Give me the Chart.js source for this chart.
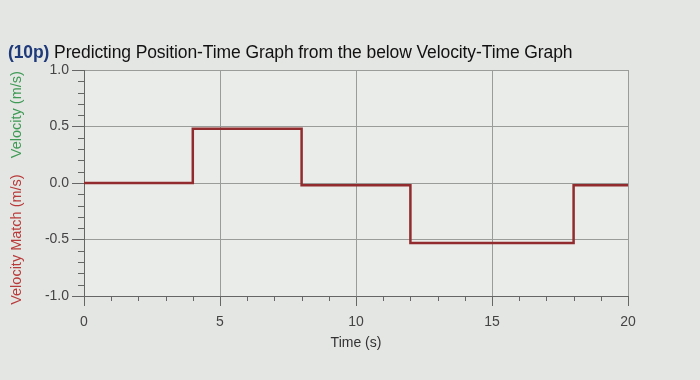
<!DOCTYPE html>
<html>
<head>
<meta charset="utf-8">
<script src="https://cdn.jsdelivr.net/npm/chart.js@4"></script>
<style>
  html, body { margin: 0; padding: 0; background: #e4e6e3; }
  #wrap { position: relative; width: 700px; height: 380px; }
  #title { position: absolute; left: 8px; top: 42px; font-family: "Liberation Sans", Arial, sans-serif; font-size: 17.5px; color: #111; white-space: nowrap; letter-spacing: -0.1px; }
  #title b { color: #1f3a7a; }
  canvas { position: absolute; left: 0; top: 0; }
</style>
</head>
<body>
<div id="wrap">
  <canvas id="c" width="700" height="380"></canvas>
  <div id="title"><b>(10p)</b> Predicting Position-Time Graph from the below Velocity-Time Graph</div>
</div>
<script>
const times = [0, 4, 8, 12, 18, 20];
const velocityMatch = [0, 0.48, -0.02, -0.53, -0.02, -0.02];
const velocity = [];
const xTickLabels = ['0', '5', '10', '15', '20'];
const yTickLabels = ['-1.0', '-0.5', '0.0', '0.5', '1.0'];
const xAxisTitle = 'Time (s)';
const yTitleRed = 'Velocity Match (m/s)';
const yTitleGreen = 'Velocity (m/s)';

const isMajor = (v, step) => Math.abs(v / step - Math.round(v / step)) < 1e-6;

const plotBg = {
  id: 'plotBg',
  beforeDraw(chart) {
    const { ctx, chartArea: a } = chart;
    ctx.save();
    ctx.fillStyle = '#eaece9';
    ctx.fillRect(a.left, a.top, a.right - a.left, a.bottom - a.top);
    ctx.restore();
  }
};

const minorTicks = {
  id: 'minorTicks',
  afterDraw(chart) {
    const { ctx, chartArea: a } = chart;
    const xs = chart.scales.x, ys = chart.scales.y;
    ctx.save();
    ctx.strokeStyle = '#666';
    ctx.lineWidth = 1;
    xs.ticks.forEach(t => {
      if (!isMajor(t.value, 5)) {
        const px = Math.round(xs.getPixelForValue(t.value)) + 0.5;
        ctx.beginPath(); ctx.moveTo(px, a.bottom); ctx.lineTo(px, a.bottom + 5); ctx.stroke();
      }
    });
    ys.ticks.forEach(t => {
      if (!isMajor(t.value, 0.5)) {
        const py = Math.round(ys.getPixelForValue(t.value)) + 0.5;
        ctx.beginPath(); ctx.moveTo(a.left - 6, py); ctx.lineTo(a.left, py); ctx.stroke();
      }
    });
    // rotated y title in two colours
    ctx.font = '14.5px "Liberation Sans", Arial, sans-serif';
    ctx.translate(17, (a.top + a.bottom) / 2);
    ctx.rotate(-Math.PI / 2);
    const sep = '    ';
    const wR = ctx.measureText(yTitleRed + sep).width;
    const wG = ctx.measureText(yTitleGreen).width;
    const start = -(wR + wG) / 2 - 5;
    ctx.textBaseline = 'middle';
    ctx.textAlign = 'left';
    ctx.fillStyle = '#b83a3a';
    ctx.fillText(yTitleRed, start, 0);
    ctx.fillStyle = '#3f9a55';
    ctx.fillText(yTitleGreen, start + wR, 0);
    ctx.restore();
  }
};

new Chart(document.getElementById('c'), {
  type: 'line',
  data: {
    datasets: [
      {
        label: yTitleRed,
        data: times.map((t, i) => ({ x: t, y: velocityMatch[i] })),
        borderColor: '#922b2d',
        borderWidth: 2.5,
        stepped: true,
        pointRadius: 0,
        fill: false
      },
      {
        label: yTitleGreen,
        data: velocity,
        borderColor: '#3f9a55',
        borderWidth: 2,
        pointRadius: 0
      }
    ]
  },
  options: {
    responsive: false,
    animation: false,
    events: [],
    layout: { padding: { left: 30, top: 70, right: 72, bottom: 28 } },
    plugins: { legend: { display: false }, tooltip: { enabled: false } },
    scales: {
      x: {
        type: 'linear',
        min: 0, max: 20,
        afterBuildTicks(s) {
          s.ticks = [];
          for (let v = 0; v <= 20; v++) s.ticks.push({ value: v });
        },
        afterFit(s) { s.height = 56; },
        border: { color: '#666', width: 1 },
        grid: {
          color: c => (c.tick && isMajor(c.tick.value, 5)) ? '#9a9c99' : 'rgba(0,0,0,0)',
          tickColor: c => (c.tick && isMajor(c.tick.value, 5)) ? '#666' : 'rgba(0,0,0,0)',
          tickLength: 10,
          lineWidth: 1
        },
        ticks: {
          autoSkip: false,
          maxRotation: 0,
          color: '#444',
          font: { family: '"Liberation Sans", Arial, sans-serif', size: 14 },
          padding: 8,
          callback: v => isMajor(v, 5) ? xTickLabels[Math.round(v / 5)] : ''
        },
        title: {
          display: true,
          text: xAxisTitle,
          color: '#333',
          font: { family: '"Liberation Sans", Arial, sans-serif', size: 14 },
          padding: { top: 0, bottom: 0 }
        }
      },
      y: {
        type: 'linear',
        min: -1, max: 1,
        afterBuildTicks(s) {
          s.ticks = [];
          for (let i = -10; i <= 10; i++) s.ticks.push({ value: i / 10 });
        },
        afterFit(s) { s.width = 54; },
        border: { color: '#666', width: 1 },
        grid: {
          color: c => (c.tick && isMajor(c.tick.value, 0.5)) ? '#9a9c99' : 'rgba(0,0,0,0)',
          tickColor: c => (c.tick && isMajor(c.tick.value, 0.5)) ? '#666' : 'rgba(0,0,0,0)',
          tickLength: 12,
          lineWidth: 1
        },
        ticks: {
          autoSkip: false,
          color: '#444',
          font: { family: '"Liberation Sans", Arial, sans-serif', size: 14 },
          padding: 3,
          callback: v => isMajor(v, 0.5) ? yTickLabels[Math.round(v / 0.5) + 2] : ''
        }
      }
    }
  },
  plugins: [plotBg, minorTicks]
});
</script>
</body>
</html>
